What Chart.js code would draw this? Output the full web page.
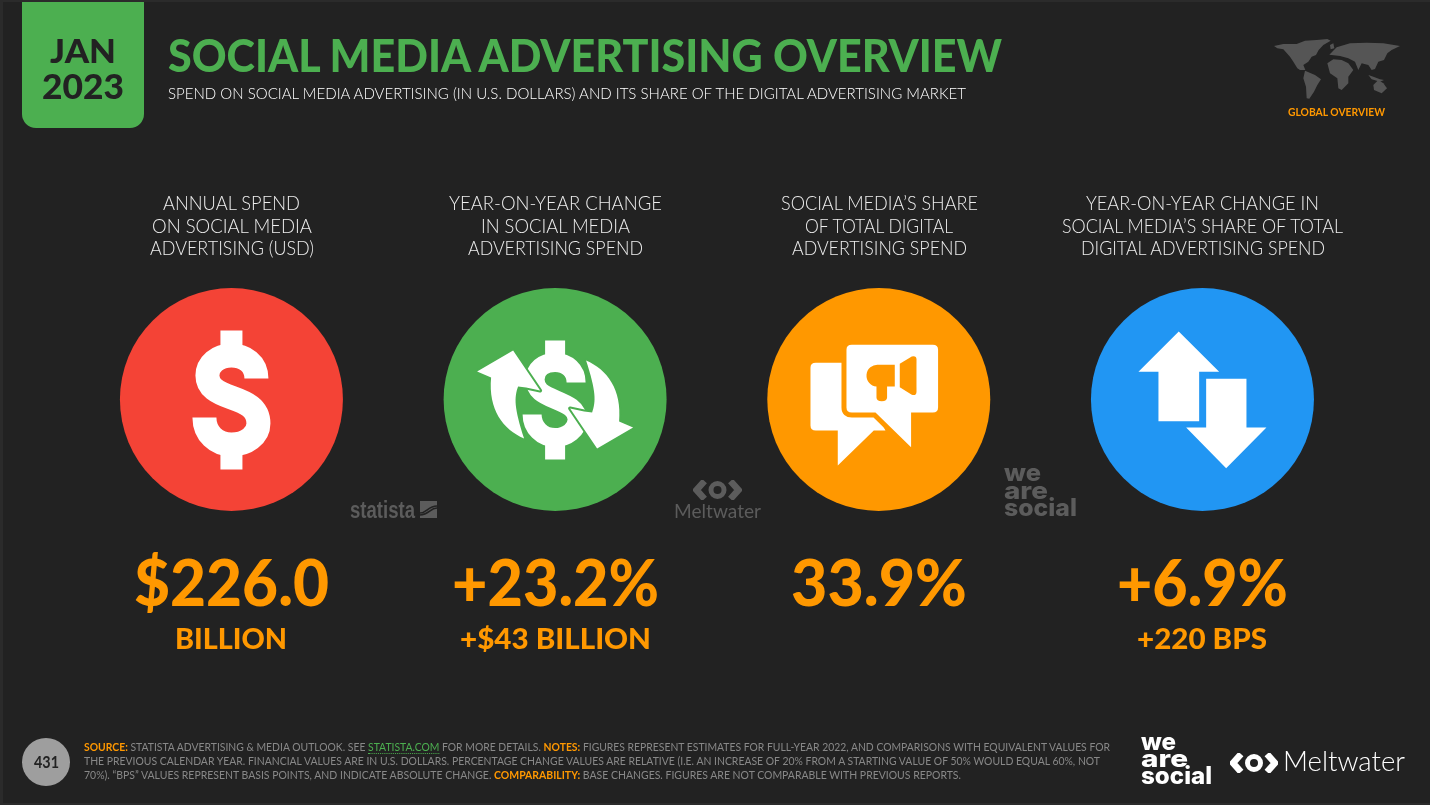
<!DOCTYPE html>
<html>
<head>
<meta charset="utf-8">
<title>Social media advertising overview</title>
<script src="https://cdn.jsdelivr.net/npm/chart.js@4"></script>
<style>
  html, body { margin: 0; padding: 0; width: 1430px; height: 805px; overflow: hidden; background: #2b2b2b; }
  #slide { position: absolute; left: 3px; top: 2px; width: 1427px; height: 801px; background: #222222; }
  .t { position: absolute; white-space: nowrap; line-height: 1; font-family: Lato, sans-serif; transform-origin: 0 0; }
  #badge { position: absolute; left: 22px; top: 2px; width: 122px; height: 126px; background: #4caf50; border-radius: 0 0 14px 14px; }
  #pageDot { position: absolute; left: 22px; top: 738px; width: 48px; height: 48px; border-radius: 50%; background: #9e9e9e; }
  svg { position: absolute; overflow: visible; }
  .src { color: #ff9800; font-weight: 700; }
  .lnk { color: #4caf50; border-bottom: 1px dotted #4caf50; }
</style>
</head>
<body>
<div id="slide"></div>
<div id="badge"></div>
<div id="pageDot"></div>
<canvas id="overview" width="1430" height="805" style="position:absolute;left:0;top:0"></canvas>

<svg style="left:1240px;top:20px" width="190" height="110" viewBox="0 0 570 330" fill="#555555">
  <path d="M102,78 L130,72 170,72 195,62 230,60 262,57 272,62 250,75 236,90 228,105 215,110 205,125 190,135 196,150 180,150 172,145 160,125 150,110 130,88 112,85Z"/>
  <path d="M195,152 225,165 243,178 232,195 222,215 208,236 200,235 198,200 190,175Z"/>
  <path d="M268,104 290,82 330,70 380,68 430,70 480,78 455,90 442,100 432,120 415,125 405,147 395,150 385,135 365,130 355,150 345,125 325,115 300,108Z"/>
  <path d="M262,130 280,118 305,120 325,130 340,150 325,170 325,190 305,210 295,205 292,175 270,160Z"/>
  <path d="M400,195 415,180 430,190 441,205 425,220 402,210Z"/>
  <path d="M385,165 400,170 420,178 432,180 420,185 395,178Z"/>
  <path d="M270,75 280,70 283,85 272,88Z"/>
</svg>

<svg width="0" height="0" style="left:0;top:0">
  <symbol id="eye" viewBox="0 0 48 20">
    <path d="M11,1 L3,10 11,19 M37,1 L45,10 37,19" fill="none" stroke="currentColor" stroke-width="6.5"/>
    <circle cx="24" cy="10" r="6.5" fill="none" stroke="currentColor" stroke-width="5"/>
  </symbol>
</svg>
<svg style="left:693px;top:480px;color:#5c5c5c" width="49" height="20"><use href="#eye"/></svg>
<svg style="left:1230px;top:753px;color:#ffffff" width="48" height="20"><use href="#eye"/></svg>
<svg style="left:420px;top:501px" width="17" height="17" viewBox="0 0 17 17">
  <rect width="17" height="17" fill="#5c5c5c"/>
  <path d="M0,12 C7,12 8,5 17,5 M0,14 C9,14 10,7 17,7" fill="none" stroke="#222" stroke-width="1.6"/>
</svg>

<script>
const categories = [
  ['ANNUAL SPEND', 'ON SOCIAL MEDIA', 'ADVERTISING (USD)'],
  ['YEAR-ON-YEAR CHANGE', 'IN SOCIAL MEDIA', 'ADVERTISING SPEND'],
  ['SOCIAL MEDIA’S SHARE', 'OF TOTAL DIGITAL', 'ADVERTISING SPEND'],
  ['YEAR-ON-YEAR CHANGE IN', 'SOCIAL MEDIA’S SHARE OF TOTAL', 'DIGITAL ADVERTISING SPEND']
];
const mainValues = ['$226.0', '+23.2%', '33.9%', '+6.9%'];
const subValues = ['BILLION', '+$43 BILLION', '', '+220 BPS'];
const circleColours = ['#f44336', '#4caf50', '#ff9800', '#2196f3'];

const categoryWidths = [
  [137, 160, 164], [213, 149, 175], [197, 148, 175], [233, 281, 244]
];
const mainWidths = [195, 207, 176, 171];
const subWidths = [112, 191, 0, 130];

const WHITE = '#ffffff';

function filled(ctx, d, colour) {
  ctx.fillStyle = colour;
  ctx.fill(new Path2D(d));
}

function drawDollar(ctx, top, bottom, barHalf, width, d) {
  ctx.fillStyle = WHITE;
  ctx.fillRect(-barHalf, top, barHalf * 2, bottom - top);
  ctx.strokeStyle = WHITE;
  ctx.lineWidth = width;
  ctx.lineCap = 'butt';
  ctx.stroke(new Path2D(d));
}

const icons = [
  function (ctx) {
    drawDollar(ctx, -69, -40, 11, 24,
      'M25,-21 C25,-36 13,-44 0,-44 C-14,-44 -24,-35 -24,-24 C-24,-12 -14,-7 0,-2 C14,3 27,8 27,24 C27,36 15,45 0,45 C-15,45 -27,34 -27,18');
    ctx.fillRect(-11, 40, 22, 30);
  },
  function (ctx) {
    drawDollar(ctx, -59, -33, 10, 19,
      'M21,-17 C21,-29 12,-37 0,-37 C-12,-37 -20,-30 -20,-20 C-20,-9 -12,-5 0,0 C12,5 22,9 22,20 C22,30 12,38 0,38 C-13,38 -23,28 -23,15');
    ctx.fillRect(-10, 34, 20, 26);
    const up = 'M-78,-28 L-42,-49 -15,-9 -29,-12 -37,-13 C-41,-2 -41,8 -31,39 C-52,30 -67,10 -64,-22Z';
    const p = new Path2D(up);
    [1, -1].forEach(function (s) {
      ctx.save();
      ctx.scale(s, s);
      ctx.strokeStyle = '#4caf50';
      ctx.lineWidth = 4;
      ctx.lineJoin = 'round';
      ctx.stroke(p);
      ctx.fillStyle = WHITE;
      ctx.fill(p);
      ctx.restore();
    });
  },
  function (ctx) {
    const back = 'M-63,-36.7 L-30,-36.7 L6.7,31 L-5,31 L-41,66 L-41,31 L-63,31 Q-68.3,31 -68.3,26 L-68.3,-31.7 Q-68.3,-36.7 -63,-36.7Z';
    filled(ctx, back, WHITE);
    const front = 'M-27,-54.7 L54,-54.7 Q59.3,-54.7 59.3,-49.7 L59.3,8 Q59.3,13 54,13 L32.3,13 L32.3,47.7 L-3.3,13 L-27,13 Q-32.3,13 -32.3,8 L-32.3,-49.7 Q-32.3,-54.7 -27,-54.7Z';
    ctx.strokeStyle = '#ff9800';
    ctx.lineWidth = 10;
    ctx.lineJoin = 'round';
    ctx.save();
    ctx.clip(new Path2D('M-38,-60 L-38,31 L60,31 L60,-60Z'));
    ctx.stroke(new Path2D(front));
    ctx.restore();
    filled(ctx, front, WHITE);
    filled(ctx, 'M16,-34.7 L-0.5,-34.7 A10.8,10.8 0 0 0 -2.3,-13 L-2.3,-2 Q-2.3,1.7 3,1.7 Q8.3,1.7 8.3,-2 L8.3,-13 L16,-13Z', '#ff9800');
    filled(ctx, 'M21,-35.7 L33,-43 Q37.7,-44 37.7,-40 L37.7,-7.5 Q37.7,-3.5 33,-4.7 L21,-12.3Z', '#ff9800');
  },
  function (ctx) {
    filled(ctx, 'M-23.7,-68 L16.7,-27.7 L-3.3,-27.7 L-3.3,21.7 L-44,21.7 L-44,-27.7 L-64,-27.7Z', WHITE);
    filled(ctx, 'M3.7,-20.7 L44,-20.7 L44,28 L64,28 L23.7,68.7 L-16.3,28 L3.7,28Z', WHITE);
  }
];

const iconPlugin = {
  id: 'icons',
  afterDatasetsDraw(chart) {
    const ctx = chart.ctx;
    chart.getDatasetMeta(0).data.forEach(function (pt, i) {
      ctx.save();
      ctx.translate(pt.x, pt.y);
      icons[i](ctx);
      ctx.restore();
    });
  }
};

const chart = new Chart(document.getElementById('overview').getContext('2d'), {
  type: 'scatter',
  data: {
    datasets: [{
      label: 'Social media advertising',
      data: categories.map(function (c, i) { return { x: i, y: 0 }; }),
      backgroundColor: circleColours,
      borderWidth: 0,
      pointRadius: 111.5,
      pointHoverRadius: 111.5,
      clip: false
    }]
  },
  options: {
    responsive: false,
    animation: false,
    events: [],
    layout: { autoPadding: false, padding: { bottom: 6 } },
    plugins: { legend: { display: false }, tooltip: { enabled: false } },
    scales: {
      x: { display: false, min: -0.715, max: 3.703 },
      y: { display: false, min: -1, max: 1 }
    }
  },
  plugins: [iconPlugin]
});

// text helper: baseline + target width, squeezes the font to the width of the original
function text(html, o) {
  const el = document.createElement('div');
  el.className = 't';
  el.innerHTML = html;
  el.style.fontSize = o.size + 'px';
  el.style.fontWeight = o.weight || 400;
  el.style.color = o.color;
  if (o.font) el.style.fontFamily = o.font;
  el.style.top = (o.base - o.size * (o.asc || 0.887)) + 'px';
  document.body.appendChild(el);
  const w = el.getBoundingClientRect().width;
  const left = o.cx !== undefined ? o.cx - o.width / 2 : o.x;
  el.style.left = left + 'px';
  el.style.transform = 'scaleX(' + (o.width / w) + ')';
}

text('JAN', { cx: 83, base: 63, size: 33, weight: 900, color: '#222', width: 66 });
text('2023', { cx: 83, base: 99, size: 35, weight: 900, color: '#222', width: 82 });
text('SOCIAL MEDIA ADVERTISING OVERVIEW', { x: 168, base: 72.5, size: 46, weight: 900, color: '#4caf50', width: 834 });
text('SPEND ON SOCIAL MEDIA ADVERTISING (IN U.S. DOLLARS) AND ITS SHARE OF THE DIGITAL ADVERTISING MARKET',
  { x: 168, base: 99, size: 16, weight: 300, color: '#ffffff', width: 798 });
text('GLOBAL OVERVIEW', { x: 1288, base: 116, size: 11, weight: 700, color: '#ff9800', width: 97 });

const xScale = chart.scales.x;
categories.forEach(function (lines, i) {
  const cx = xScale.getPixelForValue(i);
  lines.forEach(function (line, j) {
    text(line, { cx: cx + 0.5, base: 210 + j * 22.5, size: 20, weight: 300, color: '#eeeeee', width: categoryWidths[i][j] });
  });
  text(mainValues[i], { cx: cx, base: 607, size: 65, weight: 900, color: '#ff9800', width: mainWidths[i] });
  if (subValues[i]) {
    text(subValues[i], { cx: cx, base: 649, size: 29, weight: 900, color: '#ff9800', width: subWidths[i] });
  }
});

text('statista', { x: 350, base: 518, size: 23, weight: 700, font: '"Liberation Sans Narrow", sans-serif', asc: 0.847, color: '#5c5c5c', width: 65 });
text('Meltwater', { x: 674, base: 518, size: 20, weight: 400, color: '#5c5c5c', width: 87 });
['we', 'are', 'social'].forEach(function (w, i) {
  text(w, { x: 1004, base: [482, 500, 517][i], size: 24, weight: 800, font: 'Inter, sans-serif', asc: 0.864, color: '#5c5c5c', width: [37, 44, 73][i] });
  text(w, { x: 1141, base: [751, 768, 785][i], size: 24, weight: 800, font: 'Inter, sans-serif', asc: 0.864, color: '#ffffff', width: [35, 47, 71][i] });
});
text('Meltwater', { x: 1283, base: 771, size: 27, weight: 300, color: '#ffffff', width: 122 });

text('431', { cx: 46, base: 768, size: 17, weight: 700, color: '#222', width: 25 });

const grey = '#888888';
text('<span class="src">SOURCE:</span> STATISTA ADVERTISING &amp; MEDIA OUTLOOK. SEE <span class="lnk">STATISTA.COM</span> FOR MORE DETAILS. <span class="src">NOTES:</span> FIGURES REPRESENT ESTIMATES FOR FULL-YEAR 2022, AND COMPARISONS WITH EQUIVALENT VALUES FOR',
  { x: 84, base: 751, size: 11, color: grey, width: 1026 });
text('THE PREVIOUS CALENDAR YEAR. FINANCIAL VALUES ARE IN U.S. DOLLARS. PERCENTAGE CHANGE VALUES ARE RELATIVE (I.E. AN INCREASE OF 20% FROM A STARTING VALUE OF 50% WOULD EQUAL 60%, NOT',
  { x: 84, base: 765, size: 11, color: grey, width: 1016 });
text('70%). “BPS” VALUES REPRESENT BASIS POINTS, AND INDICATE ABSOLUTE CHANGE. <span class="src">COMPARABILITY:</span> BASE CHANGES. FIGURES ARE NOT COMPARABLE WITH PREVIOUS REPORTS.',
  { x: 84, base: 779, size: 11, color: grey, width: 877 });
</script>
</body>
</html>
